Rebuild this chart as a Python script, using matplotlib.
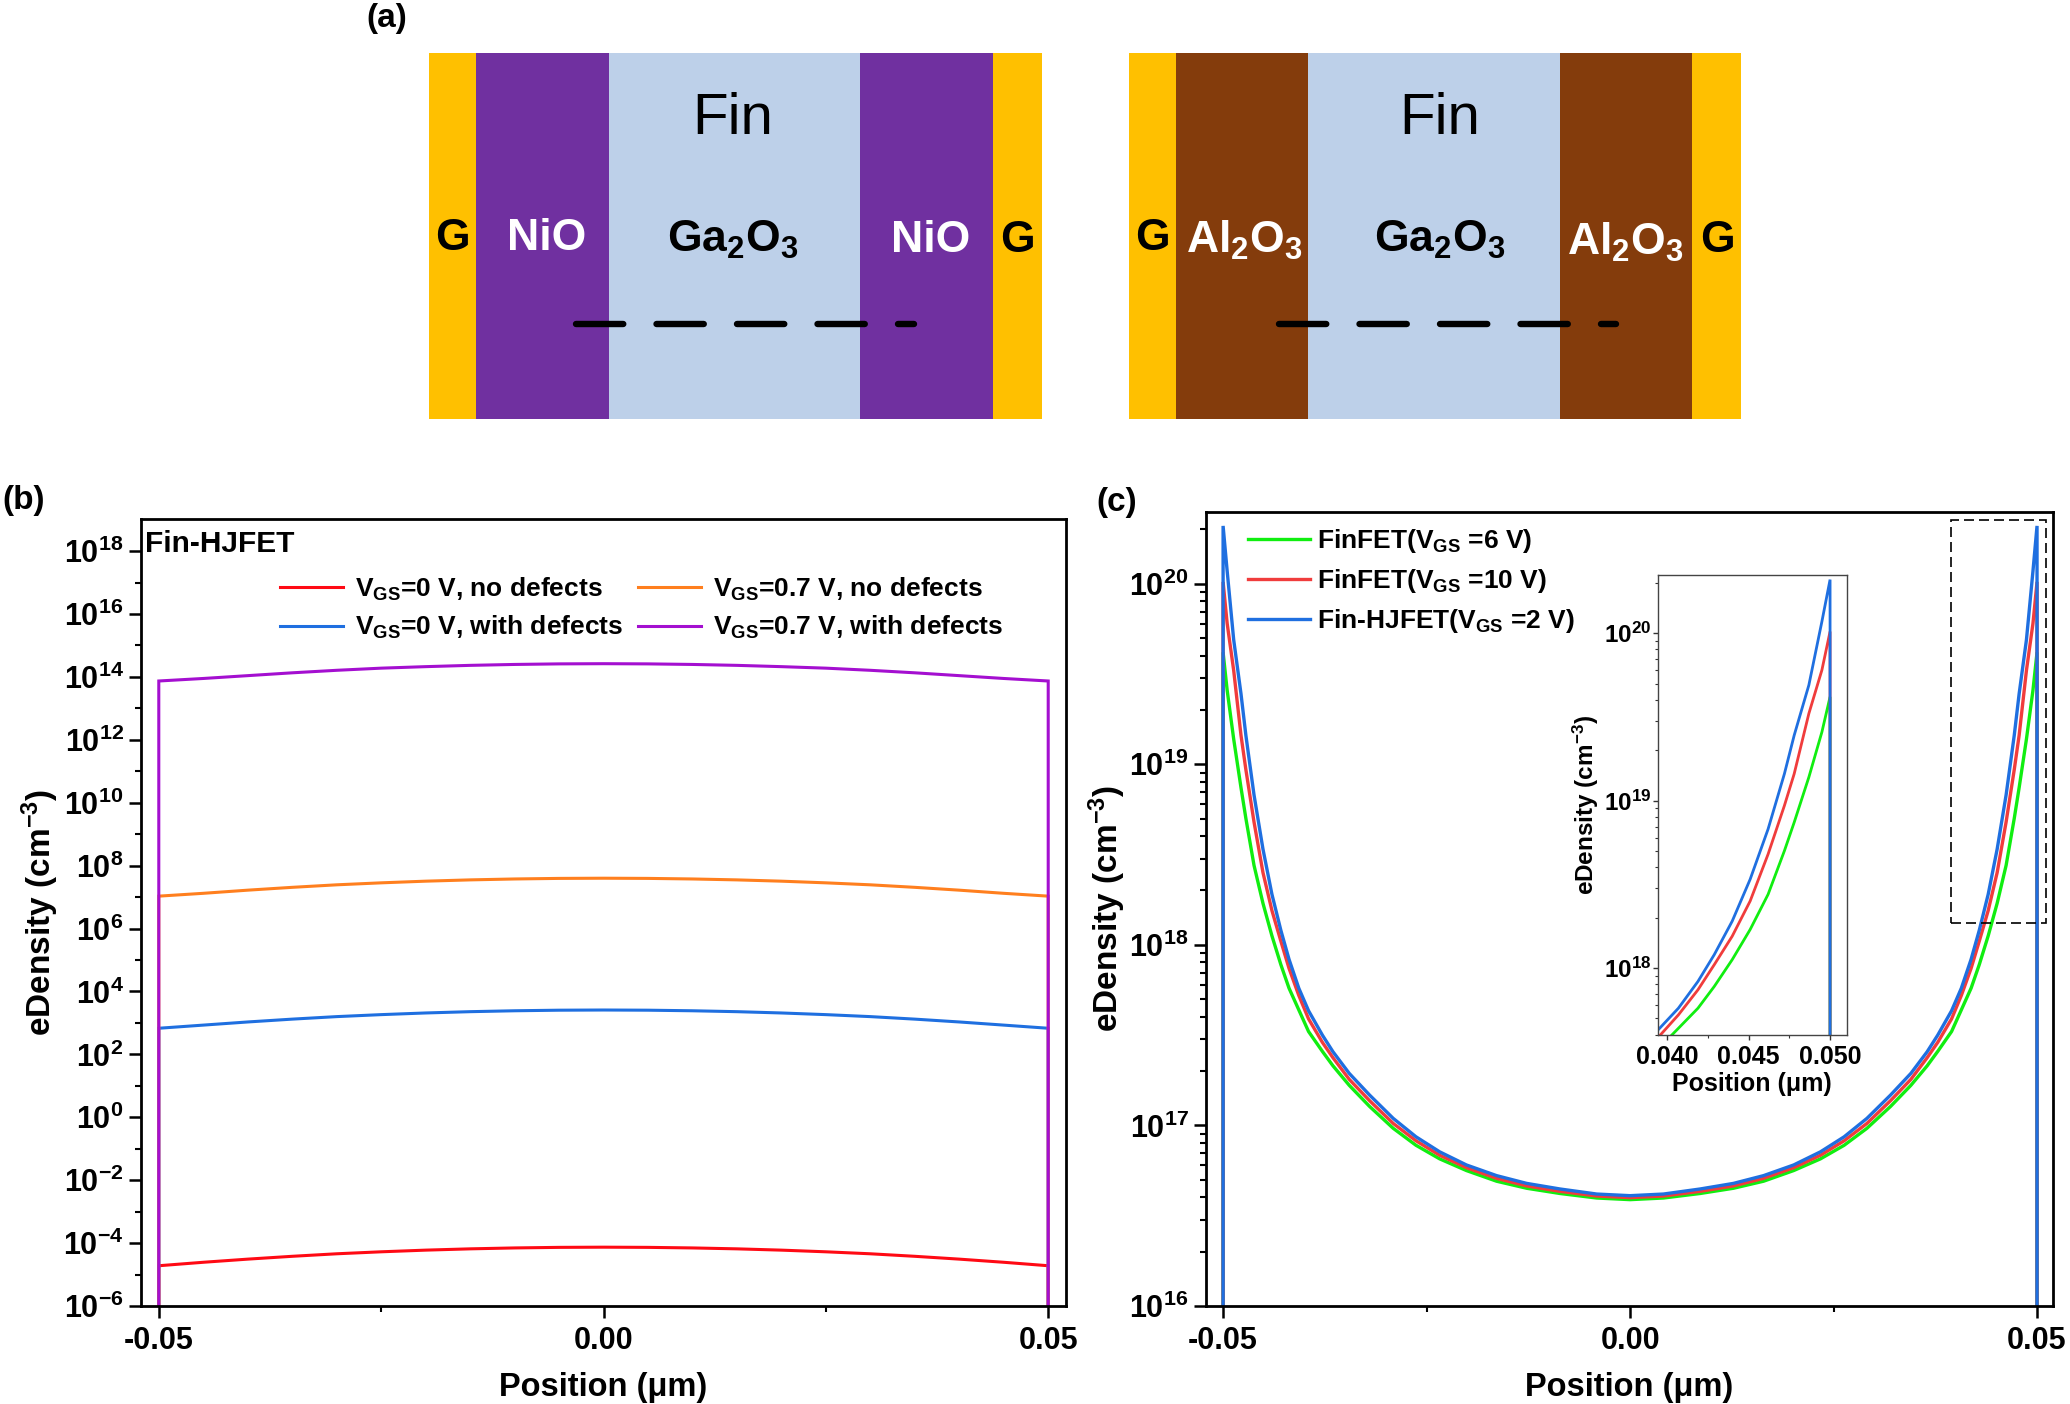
#!/usr/bin/env python3

# imports
import numpy as np
import matplotlib
matplotlib.use('Agg')
import matplotlib.pyplot as plt
from matplotlib.patches import Rectangle
from matplotlib.ticker import FixedLocator, LogLocator, NullFormatter
from matplotlib.transforms import blended_transform_factory

plt.rcParams['font.family'] = ['Liberation Sans', 'DejaVu Sans']
plt.rcParams['font.weight'] = 'bold'
plt.rcParams['axes.labelweight'] = 'bold'
plt.rcParams['mathtext.default'] = 'regular'
plt.rcParams['axes.unicode_minus'] = False

W, H = 2070, 1404

# panel (b): right half of the profile, log10 of eDensity, mirrored about x=0
pos_b = [0.0, 0.005, 0.01, 0.015, 0.02, 0.025, 0.03, 0.035, 0.04, 0.045, 0.05]
floor_b = -6.0
vgs0_clean = [-4.13, -4.136, -4.154, -4.183, -4.224, -4.277, -4.34, -4.42, -4.51, -4.61, -4.72]
vgs0_defects = [3.41, 3.404, 3.386, 3.357, 3.316, 3.263, 3.20, 3.12, 3.03, 2.93, 2.83]
vgs07_clean = [7.60, 7.594, 7.576, 7.547, 7.506, 7.453, 7.39, 7.31, 7.22, 7.12, 7.03]
vgs07_defects = [14.42, 14.414, 14.396, 14.367, 14.326, 14.278, 14.21, 14.13, 14.04, 13.95, 13.87]

# panel (c): same convention as (b)
pos_c = [0.0, 0.0041, 0.0086, 0.0127, 0.0164, 0.0201, 0.0234, 0.0263, 0.0291, 0.0320, 0.0345,
         0.0365, 0.0378, 0.0395, 0.0407, 0.0419, 0.0429, 0.0440, 0.0451, 0.0462, 0.0472,
         0.0478, 0.0487, 0.0495, 0.05]
floor_c = 16.0
finfet_6v = [16.589, 16.598, 16.623, 16.652, 16.691, 16.75, 16.815, 16.89, 16.984, 17.105, 17.222,
             17.33, 17.41, 17.52, 17.64, 17.76, 17.89, 18.05, 18.23, 18.44, 18.70,
             18.87, 19.14, 19.41, 19.62]
finfet_10v = [16.60, 16.609, 16.635, 16.665, 16.707, 16.766, 16.835, 16.915, 17.011, 17.137, 17.255,
              17.375, 17.46, 17.59, 17.72, 17.87, 18.02, 18.19, 18.40, 18.68, 18.97,
              19.16, 19.52, 19.78, 20.01]
hjfet_2v = [16.611, 16.620, 16.648, 16.679, 16.722, 16.781, 16.854, 16.937, 17.039, 17.168, 17.288,
            17.408, 17.50, 17.635, 17.76, 17.92, 18.08, 18.28, 18.53, 18.83, 19.16,
            19.39, 19.69, 20.07, 20.32]

# colours
RED, ORANGE, BLUE, PURPLE = '#FF0A14', '#FF7F1E', '#1F6FE0', '#A40FD0'
C_GREEN, C_RED, C_BLUE = '#10EE10', '#F03C3C', '#1F6FE0'
C_GATE, C_NIO, C_AL2O3, C_FIN = '#FFC000', '#7030A0', '#843C0C', '#BDD0E9'


def px_axes(left, top, right, bottom):
    return fig.add_axes([left / W, 1 - bottom / H, (right - left) / W, (bottom - top) / H])


def exp_labels(exps):
    return ['$\\mathdefault{10^{%d}}$' % e for e in exps]


def full_curve(pos, vals, floor):
    # mirror the half profile and drop to the axis floor at both walls
    pos = np.array(pos)
    vals = np.array(vals)
    x = np.concatenate([[-0.05], -pos[::-1], pos[1:], [0.05]])
    y = np.concatenate([[floor], vals[::-1], vals[1:], [floor]])
    return x, 10.0 ** y


fig = plt.figure(figsize=(W / 100, H / 100), dpi=100)

# schematic cross sections, drawn in pixel space
sch = fig.add_axes([0, 0, 1, 1])
sch.set_xlim(0, W)
sch.set_ylim(H, 0)
sch.axis('off')

left_edges = [429, 476, 609, 860, 993, 1041.5]
right_edges = [1129, 1176, 1308, 1560, 1692, 1741]
layers_left = [C_GATE, C_NIO, C_FIN, C_NIO, C_GATE]
layers_right = [C_GATE, C_AL2O3, C_FIN, C_AL2O3, C_GATE]
for edges, layers in [(left_edges, layers_left), (right_edges, layers_right)]:
    for i, col in enumerate(layers):
        sch.add_patch(Rectangle((edges[i], 53), edges[i + 1] - edges[i], 366, color=col, lw=0))

GA2O3 = 'Ga$_{2}$O$_{3}$'
AL2O3 = 'Al$_{2}$O$_{3}$'
for x, y, s, col, size, wt in [
    (733, 119, 'Fin', 'black', 42, 'normal'),
    (1440, 119, 'Fin', 'black', 42, 'normal'),
    (452, 239, 'G', 'black', 32, 'bold'),
    (547, 238, 'NiO', 'white', 32, 'bold'),
    (733, 240, GA2O3, 'black', 32, 'bold'),
    (931, 240, 'NiO', 'white', 32, 'bold'),
    (1017, 240, 'G', 'black', 32, 'bold'),
    (1152, 239, 'G', 'black', 32, 'bold'),
    (1244, 240, AL2O3, 'white', 32, 'bold'),
    (1440, 240, GA2O3, 'black', 32, 'bold'),
    (1625, 242, AL2O3, 'white', 32, 'bold'),
    (1717, 240, 'G', 'black', 32, 'bold'),
]:
    sch.text(x, y, s, color=col, fontsize=size, fontweight=wt, ha='center', va='center')

# cut lines through the fin
for x0, x1 in [(576, 914), (1279, 1616)]:
    sch.plot([x0, x1], [324, 324], color='black', lw=4.6,
             linestyle=(0, (7.4, 5.2)), dash_capstyle='round')

for x, y, s in [(387, 19, '(a)'), (24, 501, '(b)'), (1117, 503, '(c)')]:
    sch.text(x, y, s, fontsize=24, ha='center', va='center')

# panel (b)
ax_b = px_axes(141, 519, 1066, 1306)
for vals, col, lab in [
    (vgs0_clean, RED, 'V$_{GS}$=0 V, no defects'),
    (vgs0_defects, BLUE, 'V$_{GS}$=0 V, with defects'),
    (vgs07_clean, ORANGE, 'V$_{GS}$=0.7 V, no defects'),
    (vgs07_defects, PURPLE, 'V$_{GS}$=0.7 V, with defects'),
]:
    x, y = full_curve(pos_b, vals, floor_b)
    ax_b.plot(x, y, color=col, lw=2.2, label=lab, solid_joinstyle='miter')

ax_b.set_yscale('log')
ax_b.set_xlim(-0.052, 0.052)
ax_b.set_ylim(1e-6, 10 ** 19.02)
maj_b = list(range(-6, 19, 2))
ax_b.set_yticks([10.0 ** e for e in maj_b], exp_labels(maj_b))
ax_b.yaxis.set_minor_locator(FixedLocator([10.0 ** e for e in range(-5, 19, 2)]))
ax_b.yaxis.set_minor_formatter(NullFormatter())
ax_b.legend(ncol=2, loc='upper left', bbox_to_anchor=(0.15, 0.928), frameon=False, fontsize=19,
            handlelength=2.4, handletextpad=0.45, columnspacing=0.55, labelspacing=0.42,
            borderpad=0, borderaxespad=0)
ax_b.text(145, 544, 'Fin-HJFET', fontsize=21.5, va='center', ha='left',
          transform=sch.transData)
ax_b.set_ylabel('eDensity (cm$^{-3}$)', fontsize=24)
ax_b.yaxis.set_label_coords(61 / W, 0.5, transform=blended_transform_factory(
    fig.transFigure, ax_b.transAxes))

# panel (c)
ax_c = px_axes(1206, 512, 2052.5, 1306)
c_series = [
    (finfet_6v, C_GREEN, 'FinFET(V$_{GS}$ =6 V)'),
    (finfet_10v, C_RED, 'FinFET(V$_{GS}$ =10 V)'),
    (hjfet_2v, C_BLUE, 'Fin-HJFET(V$_{GS}$ =2 V)'),
]
for vals, col, lab in c_series:
    x, y = full_curve(pos_c, vals, floor_c)
    ax_c.plot(x, y, color=col, lw=2.4, label=lab, solid_joinstyle='miter')

ax_c.set_yscale('log')
ax_c.set_xlim(-0.0521, 0.0519)
ax_c.set_ylim(1e16, 10 ** 20.397)
maj_c = [16, 17, 18, 19, 20]
ax_c.set_yticks([10.0 ** e for e in maj_c], exp_labels(maj_c))
ax_c.yaxis.set_minor_locator(LogLocator(base=10, subs=range(2, 10), numticks=12))
ax_c.yaxis.set_minor_formatter(NullFormatter())
ax_c.legend(loc='upper left', bbox_to_anchor=(0.05, 0.981), frameon=False, fontsize=19,
            handlelength=2.35, handletextpad=0.27, labelspacing=0.45,
            borderpad=0, borderaxespad=0)
ax_c.set_ylabel('eDensity (cm$^{-3}$)', fontsize=24)
ax_c.yaxis.set_label_coords(1128 / W, 0.5, transform=blended_transform_factory(
    fig.transFigure, ax_c.transAxes))

# shared styling of (b) and (c)
for ax in (ax_b, ax_c):
    ax.set_xticks([-0.05, 0.0, 0.05], ['-0.05', '0.00', '0.05'])
    ax.xaxis.set_minor_locator(FixedLocator([-0.025, 0.025]))
    ax.set_xlabel('Position (\u03bcm)', fontsize=23.5, labelpad=11.5)
    ax.tick_params(which='major', length=8.5, width=1.8, labelsize=22, pad=4)
    ax.tick_params(axis='x', which='major', pad=6)
    ax.tick_params(which='minor', length=4.5, width=1.5)
    for sp in ax.spines.values():
        sp.set_linewidth(2.0)

# zoom box on the right wall of (c) and its leader line to the inset
ax_c.add_patch(Rectangle((0.0394, 10 ** 18.12), 0.0117, 10 ** 20.35 - 10 ** 18.12, fill=False,
                         ec='black', lw=1.2, ls=(0, (6, 3)), zorder=5))
sch.plot([1851, 1934], [802, 747], color='black', lw=1.5, zorder=6)

# inset of the right wall
ins = px_axes(1658, 574.6, 1846.7, 1035)
for vals, col, lab in c_series:
    x, y = full_curve(pos_c, vals, floor_c)
    ins.plot(x, y, color=col, lw=2.0, solid_joinstyle='miter')
ins.set_yscale('log')
ins.set_xlim(0.03945, 0.05102)
ins.set_ylim(10 ** 17.6, 10 ** 20.35)
maj_i = [18, 19, 20]
ins.set_yticks([10.0 ** e for e in maj_i], exp_labels(maj_i))
ins.yaxis.set_minor_locator(LogLocator(base=10, subs=range(2, 10), numticks=12))
ins.yaxis.set_minor_formatter(NullFormatter())
ins.set_xticks([0.04, 0.045, 0.05], ['0.040', '0.045', '0.050'])
ins.xaxis.set_minor_locator(FixedLocator([0.0425, 0.0475]))
ins.tick_params(which='major', length=3.5, width=1.0, labelsize=18, pad=4, color='#333333')
ins.tick_params(axis='y', which='major', labelsize=17.5, pad=1.5)
ins.tick_params(which='minor', length=2, width=0.8, color='#333333')
ins.set_xlabel('Position (\u03bcm)', fontsize=18, labelpad=2)
ins.set_ylabel('eDensity (cm$^{-3}$)', fontsize=17.5)
ins.yaxis.set_label_coords(1601 / W, 0.5, transform=blended_transform_factory(
    fig.transFigure, ins.transAxes))
for sp in ins.spines.values():
    sp.set_linewidth(1.0)
    sp.set_color('#444444')

plt.savefig('out.png', dpi=100)
